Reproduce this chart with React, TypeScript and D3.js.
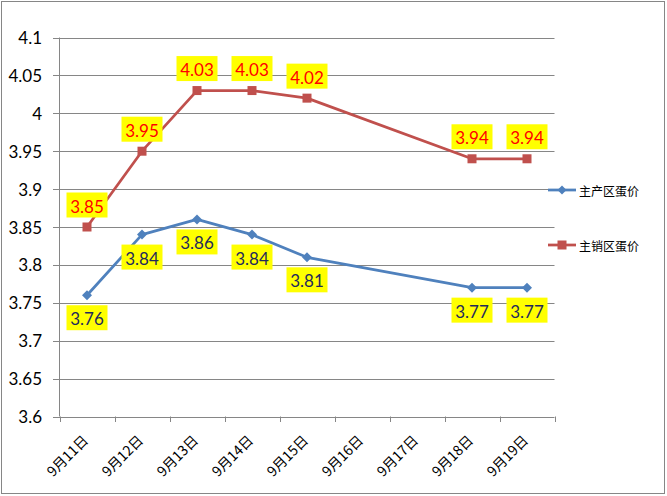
import React from "react";
import * as d3 from "d3";

const categories = ["9月11日", "9月12日", "9月13日", "9月14日", "9月15日", "9月16日", "9月17日", "9月18日", "9月19日"];
const producerPrices = [3.76, 3.84, 3.86, 3.84, 3.81, null, null, 3.77, 3.77];
const consumerPrices = [3.85, 3.95, 4.03, 4.03, 4.02, null, null, 3.94, 3.94];
const seriesNames = ["主产区蛋价", "主销区蛋价"];

const width = 667;
const height = 496;
const numFont = "Lato, 'Open Sans', sans-serif";
const cjkFont = "'Noto Sans CJK SC', sans-serif";
const gridColor = "#868686";
const blue = "#4F81BD";
const red = "#C0504D";

const App = () => {
  const x = d3.scaleBand().domain(categories).range([59.5, 554.5]).padding(0);
  const y = d3.scaleLinear().domain([3.6, 4.1]).range([416.5, 37.5]);
  const cx = (c) => x(c) + x.bandwidth() / 2;
  const yTicks = y.ticks(10);

  const pts = (vals) =>
    vals
      .map((v, i) => (v == null ? null : { c: categories[i], v }))
      .filter((d) => d != null);
  const blueData = pts(producerPrices);
  const redData = pts(consumerPrices);

  const line = d3
    .line()
    .x((d) => cx(d.c))
    .y((d) => y(d.v));

  const diamond = (px, py, r) => `M${px},${py - r}L${px + r},${py}L${px},${py + r}L${px - r},${py}Z`;

  const label = (d, above, color, key) => {
    const px = cx(d.c);
    const py = y(d.v);
    const bw = 41;
    const bh = 25;
    const top = above ? py - 9.5 - bh : py + 10;
    return (
      <g key={key}>
        <rect x={px - bw / 2} y={top} width={bw} height={bh} fill="#FFFF00" />
        <text
          x={px}
          y={top + bh / 2 + 1}
          textAnchor="middle"
          dominantBaseline="central"
          fontFamily={numFont}
          fontSize={17}
          fill={color}
        >
          {d.v.toFixed(2)}
        </text>
      </g>
    );
  };

  return (
    <div style={{ position: "absolute", left: 0, top: 0 }}>
      <svg width={width} height={height} style={{ display: "block", background: "#fff" }}>
        <rect x={1.5} y={1.5} width={663} height={492} fill="#fff" stroke={gridColor} />
        {/* grid + y axis */}
        {yTicks.map((t) => (
          <g key={t}>
            <line x1={53} x2={554.5} y1={Math.round(y(t)) + 0.5} y2={Math.round(y(t)) + 0.5} stroke={gridColor} />
            <text
              x={42}
              y={y(t)}
              textAnchor="end"
              dominantBaseline="central"
              fontFamily={numFont}
              fontSize={17}
              fill="#000"
            >
              {d3.format("~g")(t)}
            </text>
          </g>
        ))}
        <line x1={59.5} x2={59.5} y1={37.5} y2={416.5} stroke={gridColor} />
        {/* x axis ticks */}
        {categories.concat([""]).map((c, i) => {
          const tx = 59.5 + i * x.bandwidth();
          return <line key={"xt" + i} x1={Math.round(tx) + 0.5} x2={Math.round(tx) + 0.5} y1={416.5} y2={422} stroke={gridColor} />;
        })}
        {categories.map((c) => (
          <text
            key={c}
            transform={`translate(${cx(c) - 2},${437}) rotate(-45)`}
            textAnchor="end"
            dominantBaseline="central"
            fontFamily={cjkFont}
            fontSize={14}
            fill="#000"
          >
            {c}
          </text>
        ))}
        {/* series */}
        <path d={line(blueData)} fill="none" stroke={blue} strokeWidth={2.75} strokeLinejoin="round" />
        <path d={line(redData)} fill="none" stroke={red} strokeWidth={2.75} strokeLinejoin="round" />
        {blueData.map((d, i) => (
          <path key={"bm" + i} d={diamond(cx(d.c), y(d.v), 5)} fill={blue} />
        ))}
        {redData.map((d, i) => (
          <rect key={"rm" + i} x={cx(d.c) - 4.5} y={y(d.v) - 4.5} width={9} height={9} fill={red} />
        ))}
        {blueData.map((d, i) => label(d, false, "#1F2A5C", "bl" + i))}
        {redData.map((d, i) => label(d, true, "#FF0000", "rl" + i))}
        {/* legend */}
        {seriesNames.map((name, i) => {
          const ly = 190 + i * 55;
          const col = i === 0 ? blue : red;
          return (
            <g key={name}>
              <line x1={548} x2={576} y1={ly} y2={ly} stroke={col} strokeWidth={2.75} />
              {i === 0 ? (
                <path d={diamond(562, ly, 4.5)} fill={col} />
              ) : (
                <rect x={557.5} y={ly - 4.5} width={9} height={9} fill={col} />
              )}
              <text x={579} y={ly} dominantBaseline="central" fontFamily={cjkFont} fontSize={12} fill="#000">
                {name}
              </text>
            </g>
          );
        })}
      </svg>
    </div>
  );
};

export default App;
